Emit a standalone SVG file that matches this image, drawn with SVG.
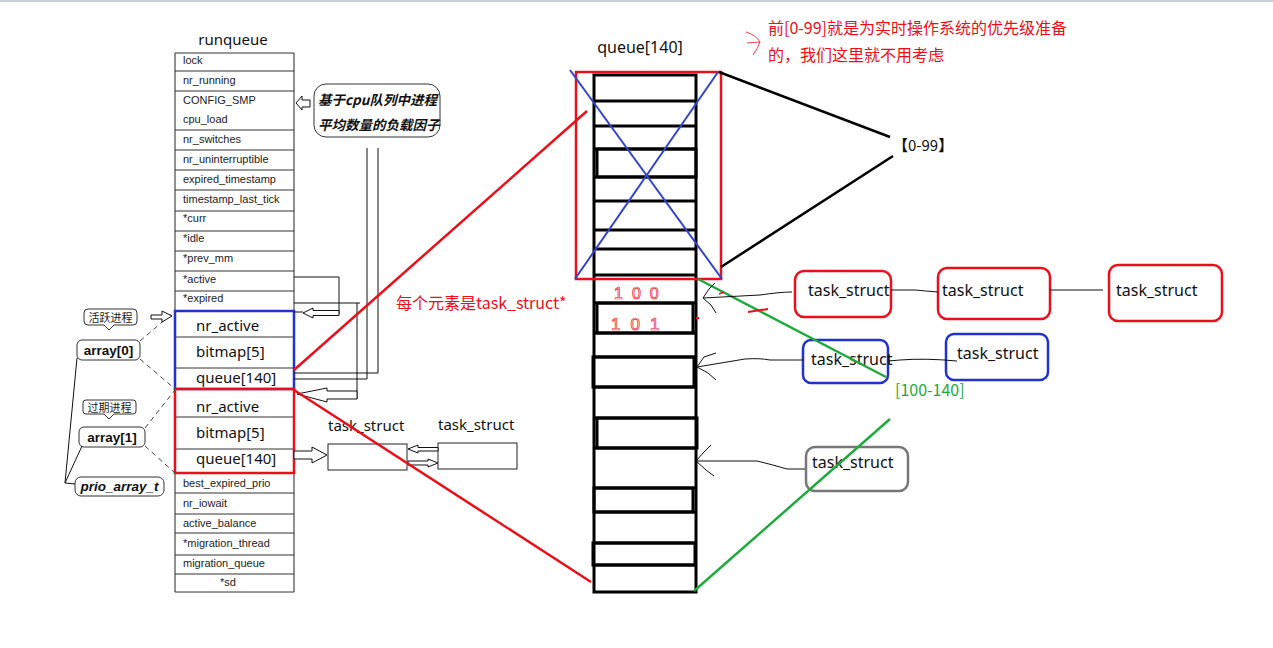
<svg xmlns="http://www.w3.org/2000/svg" width="1273" height="648" viewBox="0 0 1273 648">
<defs>
<style>
.bg{fill:#ffffff}
.t11{font-family:"Liberation Sans",Arial,sans-serif;font-size:11px;fill:#222}
.t15{font-family:"Noto Sans","Noto Sans CJK SC",sans-serif;font-size:15px;fill:#111}
.t16{font-family:"Noto Sans","Noto Sans CJK SC",sans-serif;font-size:16px;fill:#111}
.red{fill:#e8101a}
.green{fill:#1eaa3c}
.cjk{font-family:"Noto Sans CJK SC","Noto Sans",sans-serif}
.row{stroke:#333;stroke-width:1}
.tbl{fill:none;stroke:#222;stroke-width:1}
.bluebox{fill:none;stroke:#2233cc;stroke-width:2.5}
.redbox{fill:none;stroke:#e8101a;stroke-width:2.5}
.cell{fill:none;stroke:#000;stroke-width:3}
.thin{fill:none;stroke:#111;stroke-width:1}
.hollow{fill:#fff;stroke:#111;stroke-width:1}
.dash{fill:none;stroke:#444;stroke-width:1;stroke-dasharray:5,4}
.lbl{fill:#fff;stroke:#333;stroke-width:1}
.bold13{font-family:"Liberation Sans",Arial,sans-serif;font-size:13.5px;font-weight:bold;fill:#111}
.hand{font-family:"Liberation Sans",Arial,sans-serif;fill:none;stroke:#e8101a;stroke-width:0.7}
</style>
</defs>
<rect class="bg" x="0" y="0" width="1273" height="648"/>
<rect x="0" y="0" width="1273" height="2" fill="#c8d0dc"/>

<!-- runqueue table -->
<g id="runqueue">
<text class="t15" x="233" y="45" text-anchor="middle">runqueue</text>
<line class="tbl" x1="175" y1="53" x2="175" y2="592"/>
<line class="tbl" x1="294" y1="53" x2="294" y2="592"/>
<g class="row">
<line x1="175" y1="53" x2="294" y2="53"/>
<line x1="175" y1="71" x2="294" y2="71"/>
<line x1="175" y1="91" x2="294" y2="91"/>
<line x1="175" y1="130" x2="294" y2="130"/>
<line x1="175" y1="150" x2="294" y2="150"/>
<line x1="175" y1="170" x2="294" y2="170"/>
<line x1="175" y1="190" x2="294" y2="190"/>
<line x1="175" y1="211" x2="294" y2="211"/>
<line x1="175" y1="231" x2="294" y2="231"/>
<line x1="175" y1="251" x2="294" y2="251"/>
<line x1="175" y1="271" x2="294" y2="271"/>
<line x1="175" y1="291" x2="294" y2="291"/>
<line x1="175" y1="493" x2="294" y2="493"/>
<line x1="175" y1="514" x2="294" y2="514"/>
<line x1="175" y1="533" x2="294" y2="533"/>
<line x1="175" y1="555" x2="294" y2="555"/>
<line x1="175" y1="574" x2="294" y2="574"/>
<line x1="175" y1="592" x2="294" y2="592"/>
<line x1="175" y1="337" x2="294" y2="337"/>
<line x1="175" y1="368" x2="294" y2="368"/>
<line x1="175" y1="417" x2="294" y2="417"/>
<line x1="175" y1="449" x2="294" y2="449"/>
</g>
<text class="t11" x="183" y="64">lock</text>
<text class="t11" x="183" y="84">nr_running</text>
<text class="t11" x="183" y="104">CONFIG_SMP</text>
<text class="t11" x="183" y="123">cpu_load</text>
<text class="t11" x="183" y="143">nr_switches</text>
<text class="t11" x="183" y="163">nr_uninterruptible</text>
<text class="t11" x="183" y="183">expired_timestamp</text>
<text class="t11" x="183" y="203">timestamp_last_tick</text>
<text class="t11" x="183" y="222">*curr</text>
<text class="t11" x="183" y="242">*idle</text>
<text class="t11" x="183" y="262">*prev_mm</text>
<text class="t11" x="183" y="283">*active</text>
<text class="t11" x="183" y="302">*expired</text>
<rect class="bluebox" x="175" y="311" width="119" height="78"/>
<text class="t15" x="196" y="331">nr_active</text>
<text class="t15" x="196" y="357">bitmap[5]</text>
<text class="t15" x="196" y="383">queue[140]</text>
<rect class="redbox" x="175" y="389" width="119" height="84"/>
<text class="t15" x="196" y="412">nr_active</text>
<text class="t15" x="196" y="438">bitmap[5]</text>
<text class="t15" x="196" y="464">queue[140]</text>
<text class="t11" x="183" y="487">best_expired_prio</text>
<text class="t11" x="183" y="507">nr_iowait</text>
<text class="t11" x="183" y="527">active_balance</text>
<text class="t11" x="183" y="547">*migration_thread</text>
<text class="t11" x="183" y="567">migration_queue</text>
<text class="t11" x="228" y="586" text-anchor="middle">*sd</text>
</g>

<!-- load-factor note -->
<g id="note-load">
<rect class="lbl" x="314" y="84" width="126" height="53" rx="12"/>
<text class="cjk" x="318" y="105" font-size="13.5" font-weight="bold" font-style="italic" fill="#111">基于cpu队列中进程</text>
<text class="cjk" x="318" y="130" font-size="13.5" font-weight="bold" font-style="italic" fill="#111">平均数量的负载因子</text>
</g>

<!-- left labels -->
<g id="label-active">
<path class="lbl" d="M88,309 H133 Q137,309 137,313 V321 Q137,325 133,325 H114 L109,330 L104,325 H88 Q84,325 84,321 V313 Q84,309 88,309 Z"/>
<text class="cjk" x="110.5" y="321.5" font-size="11" fill="#222" text-anchor="middle">活跃进程</text>
</g>
<g id="array0">
<rect class="lbl" x="77" y="340" width="63" height="20" rx="5"/>
<text class="bold13" x="108.5" y="355" text-anchor="middle">array[0]</text>
</g>
<g id="label-expired">
<path class="lbl" d="M86,400 H133 Q136,400 136,403 V411 Q136,414 133,414 H114 L109,419 L104,414 H86 Q83,414 83,411 V403 Q83,400 86,400 Z"/>
<text class="cjk" x="109.5" y="411.5" font-size="11" fill="#222" text-anchor="middle">过期进程</text>
</g>
<g id="array1">
<rect class="lbl" x="79" y="427" width="66" height="20" rx="5"/>
<text class="bold13" x="112" y="442" text-anchor="middle">array[1]</text>
</g>
<g id="prio-array-t">
<rect class="lbl" x="75" y="477" width="89" height="19" rx="6"/>
<text class="bold13" x="119.5" y="491" text-anchor="middle" font-style="italic">prio_array_t</text>
</g>

<!-- queue[140] column -->
<g id="queue-array">
<text class="t16" x="640" y="53" text-anchor="middle" font-size="16.5">queue[140]</text>
<rect class="cell" x="594" y="75" width="102" height="517"/>
<g stroke="#000" stroke-width="3">
<line x1="594" y1="101" x2="696" y2="101"/>
<line x1="594" y1="126" x2="696" y2="126"/>
<line x1="594" y1="149" x2="696" y2="149"/>
<line x1="594" y1="177" x2="696" y2="177"/>
<line x1="594" y1="201" x2="696" y2="201"/>
<line x1="594" y1="230" x2="696" y2="230"/>
<line x1="594" y1="249" x2="696" y2="249"/>
<line x1="594" y1="275" x2="696" y2="275"/>
<line x1="594" y1="303" x2="696" y2="303"/>
<line x1="594" y1="333" x2="696" y2="333"/>
<line x1="594" y1="357" x2="696" y2="357"/>
<line x1="594" y1="387" x2="696" y2="387"/>
<line x1="594" y1="418" x2="696" y2="418"/>
<line x1="594" y1="448" x2="696" y2="448"/>
<line x1="594" y1="488" x2="696" y2="488"/>
<line x1="594" y1="512" x2="696" y2="512"/>
<line x1="594" y1="543" x2="696" y2="543"/>
<line x1="594" y1="565" x2="696" y2="565"/>
</g>
<rect class="cell" x="597" y="149" width="99" height="28"/>
<rect class="cell" x="597" y="303" width="96" height="30"/>
<rect class="cell" x="593" y="357" width="101" height="30"/>
<rect class="cell" x="597" y="418" width="100" height="30"/>
<rect class="cell" x="594" y="488" width="99" height="24"/>
<rect class="cell" x="593" y="543" width="102" height="22"/>
<text class="hand" x="614" y="299" font-size="16" letter-spacing="9">100</text>
<text class="hand" x="611" y="330" font-size="17" letter-spacing="10">101</text>
</g>

<!-- reserved 0-99 region -->
<g id="reserved-0-99">
<rect class="redbox" x="576" y="72" width="145" height="207"/>
<line x1="570" y1="70" x2="722" y2="279" stroke="#3344cc" stroke-width="2"/>
<line x1="575" y1="279" x2="718" y2="72" stroke="#3344cc" stroke-width="2"/>
<text x="893" y="151" font-family="'Noto Sans CJK SC','Noto Sans',sans-serif" font-size="15" fill="#111"><tspan font-weight="bold">【</tspan>0-99<tspan font-weight="bold">】</tspan></text>
</g>

<!-- red annotation -->
<g id="annotation-rt">
<path d="M746,32 Q756,35 760,42 Q758,48 753,55 M747,43 L760,42" fill="none" stroke="#e8101a" stroke-width="0.8"/>
<text class="cjk red" x="768" y="34" font-size="16">前[0-99]就是为实时操作系统的优先级准备</text>
<text class="cjk red" x="768" y="61" font-size="16">的，我们这里就不用考虑</text>
</g>

<g id="annotation-elem">
<text class="cjk red" x="396" y="309" font-size="16">每个元素是task_struct*</text>
</g>

<g id="label-100-140">
<text class="cjk green" x="895" y="396" font-size="16">[100-140]</text>
</g>

<!-- small task_structs -->
<g id="task-small-1">
<text class="t15" x="328" y="431">task_struct</text>
<rect x="328" y="444" width="79" height="26" fill="#fff" stroke="#222" stroke-width="1"/>
</g>
<g id="task-small-2">
<text class="t15" x="438" y="430">task_struct</text>
<rect x="438" y="443" width="79" height="26" fill="#fff" stroke="#222" stroke-width="1"/>
</g>

<!-- right task_structs -->
<g id="task-r1">
<rect class="redbox" x="795" y="271" width="96" height="46" rx="9"/>
<text class="t16" x="808" y="296">task_struct</text>
</g>
<g id="task-r2">
<rect class="redbox" x="938" y="268" width="112" height="51" rx="9"/>
<text class="t16" x="942" y="296">task_struct</text>
</g>
<g id="task-r3">
<rect class="redbox" x="1109" y="265" width="113" height="56" rx="9"/>
<text class="t16" x="1116" y="296">task_struct</text>
</g>
<g id="task-b1">
<rect class="bluebox" x="803" y="340" width="85" height="43" rx="8"/>
<text class="t16" x="811" y="365">task_struct</text>
</g>
<g id="task-b2">
<rect class="bluebox" x="946" y="334" width="102" height="46" rx="8"/>
<text class="t16" x="957" y="359">task_struct</text>
</g>
<g id="task-g1">
<rect x="806" y="447" width="102" height="44" rx="9" fill="none" stroke="#777" stroke-width="2.5"/>
<text class="t16" x="812" y="468">task_struct</text>
</g>

<!-- connectors -->
<g id="connectors">
<line class="dash" x1="140" y1="341" x2="175" y2="311"/>
<line class="dash" x1="140" y1="359" x2="175" y2="389"/>
<line class="dash" x1="145" y1="428" x2="175" y2="390"/>
<line class="dash" x1="145" y1="446" x2="175" y2="473"/>
<polyline class="thin" points="77,358 65,483 75,484"/>
<line class="thin" x1="82" y1="446" x2="65" y2="483"/>
<polygon class="hollow" points="151,315 162,315 162,311 172,316 162,322 162,319 151,319"/>
<polygon class="hollow" points="296,103 302,96 302,100 310,100 310,107 302,107 302,110"/>
<polyline class="thin" points="367,148 367,379 294,379"/>
<polyline class="thin" points="378,148 378,373 294,373"/>
<polyline class="thin" points="294,277 339,277 339,314"/>
<line class="thin" x1="294" y1="312" x2="303" y2="312"/>
<polygon class="hollow" points="303,313 313,308 313,310.5 339,310.5 339,315.5 313,315.5 313,318"/>
<polyline class="thin" points="294,303 360,303"/>
<line class="thin" x1="357" y1="303" x2="357" y2="399"/>
<polygon class="hollow" points="297,394 327,388 327,391 357,391 357,399 327,399 327,402"/>
<polygon class="hollow" points="294,451 312,451 312,447 327,455 312,463 312,459 294,459"/>
<polygon class="hollow" points="408,449 418,445 418,447.5 438,447.5 438,451 418,451 418,453"/>
<polygon class="hollow" points="438,463 428,459 428,461 408,461 408,465 428,465 428,467"/>
<line x1="294" y1="370" x2="587" y2="111" stroke="#e8101a" stroke-width="2.5"/>
<line x1="294" y1="390" x2="591" y2="582" stroke="#e8101a" stroke-width="2.5"/>
<line x1="719" y1="72" x2="890" y2="137" stroke="#000" stroke-width="2.5"/>
<line x1="721" y1="267" x2="893" y2="156" stroke="#000" stroke-width="2.5"/>
<line x1="698" y1="279" x2="886" y2="377" stroke="#1eaa3c" stroke-width="2.5"/>
<line x1="694" y1="591" x2="890" y2="419" stroke="#1eaa3c" stroke-width="2.5"/>
<path d="M792,292 Q780,292 760,295 L703,298 M703,298 L709,289 L715,283 M703,298 L711,305 L716,313" fill="none" stroke="#111" stroke-width="1"/>
<path d="M803,360 L770,360 Q760,358 745,359 L697,367 M697,367 L704,357 L716,353 M697,367 L708,373 L716,380" fill="none" stroke="#111" stroke-width="1"/>
<path d="M805,469 L787,469 Q770,464 757,461 L696,461 M696,461 L704,452 L711,445 M696,461 L706,470 L714,476" fill="none" stroke="#111" stroke-width="1"/>
<path d="M891,290 L915,290 Q925,291 938,292" fill="none" stroke="#111" stroke-width="1"/>
<path d="M1050,290 L1103,290" fill="none" stroke="#111" stroke-width="1"/>
<path d="M888,361 L900,360 Q925,358 957,361" fill="none" stroke="#111" stroke-width="1"/>
<line x1="748" y1="312" x2="768" y2="309" stroke="#e8101a" stroke-width="2"/>
<line x1="719" y1="294" x2="724" y2="292" stroke="#e8101a" stroke-width="1.5"/>
<line x1="696" y1="318" x2="699" y2="318" stroke="#e8101a" stroke-width="2"/>
</g>
</svg>
